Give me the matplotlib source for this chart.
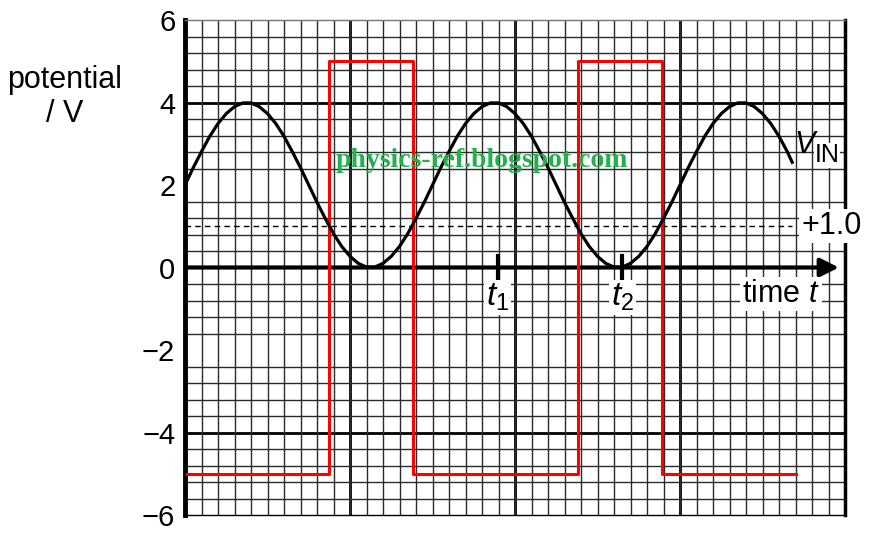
import numpy as np
import matplotlib.pyplot as plt

plt.rcParams['font.family'] = ['Liberation Sans', 'DejaVu Sans']
plt.rcParams['mathtext.fontset'] = 'custom'
plt.rcParams['mathtext.rm'] = 'Liberation Sans'
plt.rcParams['mathtext.it'] = 'Liberation Sans:italic'

# V_IN read every half small square (time in small squares)
vin_t = list(np.arange(0, 37, 0.5)) + [36.8]
vin_v = [2.00, 2.42, 2.81, 3.18, 3.49, 3.73, 3.90, 3.99, 3.99, 3.90, 3.73, 3.49, 3.18, 2.81, 2.42,
         2.00, 1.58, 1.19, 0.82, 0.51, 0.27, 0.10, 0.01, 0.01, 0.10, 0.27, 0.51, 0.82, 1.19, 1.58,
         2.00, 2.42, 2.81, 3.18, 3.49, 3.73, 3.90, 3.99, 3.99, 3.90, 3.73, 3.49, 3.18, 2.81, 2.42,
         2.00, 1.58, 1.19, 0.82, 0.51, 0.27, 0.10, 0.01, 0.01, 0.10, 0.27, 0.51, 0.82, 1.19, 1.58,
         2.00, 2.42, 2.81, 3.18, 3.49, 3.73, 3.90, 3.99, 3.99, 3.90, 3.73, 3.49, 3.18, 2.81, 2.55]

# output square wave (step edges)
out_t = [0.15, 8.75, 13.8, 23.8, 28.9, 37.0]
out_v = [-5, 5, -5, 5, -5, -5]

threshold = 1.0
t1, t2 = 18.95, 26.5
yticks = [-6, -4, -2, 0, 2, 4, 6]

fig = plt.figure(figsize=(8.69, 5.33), dpi=100)
ax = fig.add_axes([185/869, 18/533, 660/869, 495/533])
ax.set_xlim(0, 40)
ax.set_ylim(-6, 6)

# graph paper
ax.set_xticks(np.arange(0, 41, 1), minor=True)
ax.set_yticks(np.arange(-6, 6.01, 0.4), minor=True)
ax.set_xticks([])
ax.set_yticks(yticks)
ax.set_yticklabels([str(v).replace('-', '\u2212') for v in yticks], fontsize=21)
ax.tick_params(which='both', length=0, pad=7)
ax.grid(which='minor', color='#2a2a2a', lw=1.0)
for x in [10, 20, 30]:
    ax.axvline(x, color='black', lw=2, zorder=1)
for y in [4, -4]:
    ax.axhline(y, color='black', lw=2, zorder=1)
ax.spines['left'].set_linewidth(3.5)
ax.spines['right'].set_linewidth(2.5)
ax.spines['top'].set_linewidth(1)
ax.spines['top'].set_color('#777777')
ax.spines['bottom'].set_linewidth(1)

# time axis with arrow
ax.annotate('', xy=(39.8, 0), xytext=(0, 0),
            arrowprops=dict(arrowstyle='-|>', lw=3, color='black', mutation_scale=28), zorder=3)

ax.plot([0, 36.8], [threshold, threshold], color='black', lw=1, ls=(0, (4, 3)), zorder=2)
ax.plot(out_t, out_v, color='red', lw=2.2, drawstyle='steps-post', zorder=3)
ax.plot(vin_t, vin_v, color='black', lw=2.3, zorder=4)

for tt in [t1, t2]:
    ax.plot([tt, tt], [-0.27, 0.27], color='black', lw=3, zorder=4)

box = dict(fc='white', ec='none', pad=1.5)
ax.text(t1, -0.35, '$t_1$', fontsize=24, ha='center', va='top', bbox=box, zorder=5)
ax.text(t2, -0.35, '$t_2$', fontsize=24, ha='center', va='top', bbox=box, zorder=5)
ax.text(36.1, -0.65, 'time $t$', fontsize=22, ha='center', va='center', bbox=box, zorder=5)
ax.text(37.35, 1.0, '+1.0', fontsize=22, ha='left', va='center', bbox=box, zorder=5)
ax.text(36.95, 2.97, 'V', fontsize=22, style='italic', ha='left', va='center', zorder=5)
ax.text(38.15, 2.72, 'IN', fontsize=18, ha='left', va='center', bbox=dict(fc='white', ec='none', pad=0.5), zorder=5)

ax.text(18.0, 2.6, 'physics-ref.blogspot.com', fontsize=20, family='Liberation Serif',
        fontweight='bold', color='#22b14c', ha='center', va='center', zorder=6)

fig.text(65/869, 1 - 80/533, 'potential', fontsize=22, ha='center', va='center')
fig.text(65/869, 1 - 114/533, '/ V', fontsize=22, ha='center', va='center')

fig.savefig('out.png', dpi=100)
